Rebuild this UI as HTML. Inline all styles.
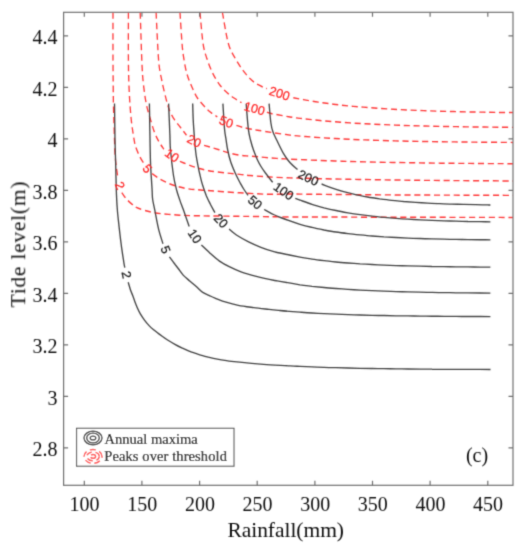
<!DOCTYPE html><html><head><meta charset="utf-8"><style>html,body{margin:0;padding:0;background:#fff;width:522px;height:550px;overflow:hidden}svg{display:block}</style></head><body>
<svg width="522" height="550" viewBox="0 0 522 550">
<rect width="522" height="550" fill="#fff"/>
<filter id="soft" x="0" y="0" width="100%" height="100%" filterUnits="userSpaceOnUse"><feConvolveMatrix order="3" kernelMatrix="0.0225 0.1050 0.0225 0.1050 0.4900 0.1050 0.0225 0.1050 0.0225" divisor="1" edgeMode="none"/></filter>
<g filter="url(#soft)">
<clipPath id="ax"><rect x="63.6" y="12.3" width="449.4" height="473.0"/></clipPath>
<g clip-path="url(#ax)">
<g transform="scale(1,1.063)">
<path d="M113.0,11.6 C113.0,19.0 112.9,42.2 113.0,56.4 C113.1,70.6 113.2,84.3 113.4,96.8 C113.7,109.3 114.2,122.5 114.5,131.4 C114.8,140.4 115.0,144.9 115.5,150.5 C116.0,156.2 117.2,162.8 117.6,165.3" fill="none" stroke="#ff3a3a" stroke-width="1.33" stroke-dasharray="6.1 3.73" stroke-linecap="butt"/>
<path d="M121.8,181.2 C122.5,182.1 124.3,184.9 126.0,186.7 C127.7,188.6 130.1,190.7 132.2,192.2 C134.2,193.7 134.7,194.6 138.3,195.9 C141.9,197.2 147.2,198.9 153.6,200.0 C160.0,201.1 168.9,201.7 176.6,202.2 C184.3,202.7 187.4,202.8 199.6,203.0 C211.8,203.2 234.9,203.4 250.0,203.6 C265.1,203.8 280.8,204.0 290.0,204.1 C299.2,204.2 300.0,204.1 305.0,204.1 C310.0,204.2 315.0,204.2 320.0,204.2 C325.0,204.2 330.0,204.2 335.0,204.2 C340.0,204.2 345.0,204.2 350.0,204.2 C355.0,204.3 360.0,204.3 365.0,204.3 C370.0,204.3 375.0,204.3 380.0,204.3 C385.0,204.3 390.0,204.3 395.0,204.3 C400.0,204.4 405.0,204.4 410.0,204.4 C415.0,204.4 420.0,204.4 425.0,204.4 C430.0,204.4 435.0,204.4 440.0,204.4 C445.0,204.4 450.0,204.5 455.0,204.5 C460.0,204.5 465.0,204.5 470.0,204.5 C475.0,204.5 480.0,204.5 485.0,204.5 C490.0,204.5 495.2,204.5 500.0,204.5 C504.8,204.6 511.7,204.6 514.0,204.6" fill="none" stroke="#ff3a3a" stroke-width="1.33" stroke-dasharray="6.1 3.73" stroke-linecap="butt"/>
<path d="M128.4,11.6 C128.4,19.0 128.3,44.2 128.4,56.4 C128.5,68.7 128.8,76.2 129.2,85.3 C129.6,94.4 130.3,103.5 131.1,111.2 C131.9,118.9 133.3,126.7 134.1,131.4 C134.9,136.1 135.1,136.6 136.1,139.3 C137.1,142.0 138.8,145.4 140.0,147.7 C141.2,150.0 142.8,152.1 143.4,153.0" fill="none" stroke="#ff3a3a" stroke-width="1.33" stroke-dasharray="6.1 3.73" stroke-linecap="butt"/>
<path d="M152.2,163.4 C153.5,164.2 157.3,166.9 160.0,168.4 C162.7,169.9 165.5,171.3 168.3,172.4 C171.1,173.6 173.3,174.3 176.6,175.2 C179.9,176.0 183.7,177.0 188.1,177.6 C192.5,178.2 194.4,178.3 203.0,178.9 C211.6,179.6 229.1,180.7 239.8,181.4 C250.5,182.0 258.6,182.5 267.0,182.7 C275.4,182.9 283.7,182.5 290.0,182.5 C296.3,182.5 300.0,182.6 305.0,182.7 C310.0,182.7 315.0,182.8 320.0,182.8 C325.0,182.9 330.0,182.9 335.0,182.9 C340.0,183.0 345.0,183.0 350.0,183.1 C355.0,183.1 360.0,183.1 365.0,183.2 C370.0,183.2 375.0,183.2 380.0,183.3 C385.0,183.3 390.0,183.3 395.0,183.4 C400.0,183.4 405.0,183.4 410.0,183.4 C415.0,183.5 420.0,183.5 425.0,183.5 C430.0,183.5 435.0,183.5 440.0,183.6 C445.0,183.6 450.0,183.6 455.0,183.6 C460.0,183.6 465.0,183.6 470.0,183.7 C475.0,183.7 480.0,183.7 485.0,183.7 C490.0,183.7 495.2,183.7 500.0,183.7 C504.8,183.8 511.7,183.8 514.0,183.8" fill="none" stroke="#ff3a3a" stroke-width="1.33" stroke-dasharray="6.1 3.73" stroke-linecap="butt"/>
<path d="M140.2,11.6 C140.5,19.0 141.3,45.4 141.8,56.4 C142.3,67.5 142.5,71.1 143.3,78.1 C144.1,85.0 145.1,92.2 146.4,98.2 C147.7,104.2 149.6,109.7 151.0,114.1 C152.4,118.5 153.3,121.7 154.6,124.7 C155.8,127.8 157.0,130.0 158.5,132.6 C160.0,135.2 162.9,139.1 163.8,140.4" fill="none" stroke="#ff3a3a" stroke-width="1.33" stroke-dasharray="6.1 3.73" stroke-linecap="butt"/>
<path d="M179.9,151.8 C182.4,152.7 190.1,155.8 194.9,157.3 C199.7,158.7 203.5,159.7 208.7,160.6 C213.9,161.5 220.8,162.2 226.0,162.7 C231.2,163.3 235.8,163.6 239.8,164.0 C243.8,164.4 245.0,164.7 250.0,165.1 C255.0,165.5 263.3,166.2 270.0,166.5 C276.7,166.9 284.2,167.1 290.0,167.3 C295.8,167.5 300.0,167.5 305.0,167.7 C310.0,167.8 315.0,167.9 320.0,168.1 C325.0,168.2 330.0,168.3 335.0,168.4 C340.0,168.5 345.0,168.6 350.0,168.7 C355.0,168.8 360.0,168.8 365.0,168.9 C370.0,169.0 375.0,169.1 380.0,169.1 C385.0,169.2 390.0,169.3 395.0,169.3 C400.0,169.4 405.0,169.5 410.0,169.5 C415.0,169.6 420.0,169.6 425.0,169.7 C430.0,169.7 435.0,169.7 440.0,169.8 C445.0,169.8 450.0,169.9 455.0,169.9 C460.0,169.9 465.0,170.0 470.0,170.0 C475.0,170.0 480.0,170.1 485.0,170.1 C490.0,170.1 495.2,170.1 500.0,170.2 C504.8,170.2 511.7,170.2 514.0,170.2" fill="none" stroke="#ff3a3a" stroke-width="1.33" stroke-dasharray="6.1 3.73" stroke-linecap="butt"/>
<path d="M156.1,11.6 C156.5,19.0 157.7,45.8 158.6,56.4 C159.5,67.0 160.4,68.9 161.7,75.2 C163.0,81.4 164.9,88.9 166.3,93.9 C167.7,98.8 168.6,101.9 169.9,104.9 C171.2,107.9 172.6,109.8 174.0,111.9 C175.4,114.0 177.1,115.8 178.5,117.5 C179.9,119.2 181.2,120.7 182.5,122.3 C183.8,123.9 185.8,126.5 186.5,127.3" fill="none" stroke="#ff3a3a" stroke-width="1.33" stroke-dasharray="6.1 3.73" stroke-linecap="butt"/>
<path d="M204.1,136.7 C206.6,137.4 214.9,139.7 219.0,140.9 C223.1,142.1 225.2,142.9 228.7,143.7 C232.2,144.6 236.0,145.5 239.8,146.0 C243.6,146.6 245.6,146.5 251.7,147.0 C257.8,147.5 270.2,148.6 276.6,149.0 C283.0,149.4 285.3,149.4 290.0,149.7 C294.7,149.9 300.0,150.1 305.0,150.3 C310.0,150.6 315.0,150.8 320.0,150.9 C325.0,151.1 330.0,151.3 335.0,151.4 C340.0,151.6 345.0,151.7 350.0,151.9 C355.0,152.0 360.0,152.1 365.0,152.3 C370.0,152.4 375.0,152.5 380.0,152.6 C385.0,152.7 390.0,152.8 395.0,152.9 C400.0,152.9 405.0,153.0 410.0,153.1 C415.0,153.2 420.0,153.2 425.0,153.3 C430.0,153.4 435.0,153.4 440.0,153.5 C445.0,153.5 450.0,153.6 455.0,153.6 C460.0,153.7 465.0,153.7 470.0,153.7 C475.0,153.8 480.0,153.8 485.0,153.9 C490.0,153.9 495.2,153.9 500.0,153.9 C504.8,154.0 511.7,154.0 514.0,154.0" fill="none" stroke="#ff3a3a" stroke-width="1.33" stroke-dasharray="6.1 3.73" stroke-linecap="butt"/>
<path d="M180.0,11.6 C180.3,16.4 181.4,33.3 182.0,40.5 C182.6,47.8 183.0,50.1 183.8,54.9 C184.6,59.7 185.6,65.0 186.9,69.3 C188.2,73.7 189.7,77.1 191.5,80.9 C193.3,84.7 195.0,88.8 197.6,92.4 C200.2,96.0 204.3,100.1 206.8,102.5 C209.3,105.0 210.9,105.8 212.7,107.1 C214.4,108.3 216.5,109.5 217.3,110.0" fill="none" stroke="#ff3a3a" stroke-width="1.33" stroke-dasharray="6.1 3.73" stroke-linecap="butt"/>
<path d="M236.4,117.9 C237.4,118.2 238.7,118.9 242.2,119.7 C245.7,120.4 249.5,121.2 257.5,122.5 C265.5,123.7 282.1,126.1 290.0,127.1 C297.9,128.1 300.0,128.0 305.0,128.4 C310.0,128.8 315.0,129.1 320.0,129.5 C325.0,129.8 330.0,130.1 335.0,130.3 C340.0,130.6 345.0,130.8 350.0,131.0 C355.0,131.3 360.0,131.5 365.0,131.6 C370.0,131.8 375.0,132.0 380.0,132.1 C385.0,132.3 390.0,132.4 395.0,132.5 C400.0,132.6 405.0,132.8 410.0,132.9 C415.0,132.9 420.0,133.0 425.0,133.1 C430.0,133.2 435.0,133.3 440.0,133.3 C445.0,133.4 450.0,133.5 455.0,133.5 C460.0,133.6 465.0,133.6 470.0,133.7 C475.0,133.7 480.0,133.8 485.0,133.8 C490.0,133.8 495.2,133.9 500.0,133.9 C504.8,133.9 511.7,134.0 514.0,134.0" fill="none" stroke="#ff3a3a" stroke-width="1.33" stroke-dasharray="6.1 3.73" stroke-linecap="butt"/>
<path d="M200.0,11.6 C200.5,16.4 201.9,33.3 203.0,40.5 C204.1,47.8 205.2,50.1 206.8,54.9 C208.5,59.7 210.6,65.0 212.9,69.3 C215.2,73.7 218.1,77.8 220.6,80.9 C223.1,84.0 226.0,86.2 228.2,88.1 C230.4,89.9 231.8,90.8 234.0,92.2 C236.2,93.6 240.2,95.9 241.5,96.6" fill="none" stroke="#ff3a3a" stroke-width="1.33" stroke-dasharray="6.1 3.73" stroke-linecap="butt"/>
<path d="M266.9,105.6 C267.8,105.9 268.2,106.2 272.1,107.0 C276.0,107.7 284.5,109.2 290.0,110.0 C295.5,110.9 300.0,111.3 305.0,111.9 C310.0,112.4 315.0,112.9 320.0,113.4 C325.0,113.8 330.0,114.2 335.0,114.6 C340.0,115.0 345.0,115.3 350.0,115.6 C355.0,115.9 360.0,116.2 365.0,116.4 C370.0,116.7 375.0,116.9 380.0,117.1 C385.0,117.3 390.0,117.5 395.0,117.7 C400.0,117.9 405.0,118.0 410.0,118.2 C415.0,118.3 420.0,118.4 425.0,118.6 C430.0,118.7 435.0,118.8 440.0,118.9 C445.0,119.0 450.0,119.1 455.0,119.1 C460.0,119.2 465.0,119.3 470.0,119.4 C475.0,119.4 480.0,119.5 485.0,119.5 C490.0,119.6 495.2,119.6 500.0,119.7 C504.8,119.7 511.7,119.8 514.0,119.8" fill="none" stroke="#ff3a3a" stroke-width="1.33" stroke-dasharray="6.1 3.73" stroke-linecap="butt"/>
<path d="M222.4,11.6 C223.4,16.4 226.2,33.6 228.2,40.5 C230.2,47.5 232.1,49.5 234.4,53.5 C236.7,57.6 239.4,61.6 242.0,65.0 C244.6,68.4 247.4,71.4 249.7,73.7 C252.0,75.9 253.8,77.2 256.0,78.6 C258.2,79.9 261.3,81.2 263.1,82.0 C264.9,82.8 266.4,83.2 267.0,83.4" fill="none" stroke="#ff3a3a" stroke-width="1.33" stroke-dasharray="6.1 3.73" stroke-linecap="butt"/>
<path d="M293.3,91.9 C295.0,92.2 299.1,93.0 303.3,93.7 C307.5,94.4 313.3,95.4 318.3,96.1 C323.3,96.8 328.3,97.4 333.3,98.0 C338.3,98.6 343.3,99.1 348.3,99.6 C353.3,100.0 358.3,100.5 363.3,100.8 C368.3,101.2 373.3,101.6 378.3,101.9 C383.3,102.2 388.3,102.5 393.3,102.8 C398.3,103.0 403.3,103.3 408.3,103.5 C413.3,103.7 418.3,103.9 423.3,104.1 C428.3,104.3 433.3,104.4 438.3,104.6 C443.3,104.7 448.3,104.8 453.3,104.9 C458.3,105.1 463.3,105.2 468.3,105.3 C473.3,105.4 478.3,105.5 483.3,105.5 C488.3,105.6 493.2,105.7 498.3,105.8 C503.4,105.8 511.4,105.9 514.0,105.9" fill="none" stroke="#ff3a3a" stroke-width="1.33" stroke-dasharray="6.1 3.73" stroke-linecap="butt"/>
</g>
<path d="M114.5,103.6 C114.6,109.7 114.8,129.8 115.0,140.0 C115.2,150.2 115.5,156.7 115.7,165.0 C115.9,173.3 116.1,183.3 116.3,190.0 C116.5,196.7 116.7,200.2 117.0,205.0 C117.3,209.8 117.5,212.3 118.2,218.7 C118.9,225.1 120.1,236.2 121.1,243.6 C122.0,250.9 123.3,258.8 123.9,262.8 C124.5,266.8 124.7,266.8 124.8,267.6" fill="none" stroke="#444444" stroke-width="1.35" stroke-linejoin="round" stroke-linecap="butt"/>
<path d="M128.2,282.2 C128.6,283.5 129.8,287.9 130.5,290.0 C131.2,292.1 131.8,293.1 132.5,295.0 C133.2,296.9 134.0,299.3 134.8,301.4 C135.6,303.5 136.4,305.6 137.3,307.7 C138.2,309.8 139.3,312.1 140.5,314.1 C141.7,316.1 142.9,317.9 144.3,319.8 C145.7,321.7 147.6,324.0 149.1,325.6 C150.6,327.2 151.4,327.9 153.6,329.7 C155.8,331.5 159.8,334.5 162.2,336.3 C164.6,338.1 165.9,339.0 168.0,340.3 C170.1,341.6 172.6,343.1 174.9,344.3 C177.2,345.6 179.1,346.6 181.8,347.8 C184.5,349.1 187.1,350.4 191.0,351.8 C194.9,353.2 199.9,355.1 205.0,356.4 C210.1,357.7 215.5,358.9 221.3,359.8 C227.1,360.8 232.6,361.4 239.7,362.1 C246.8,362.9 255.2,363.7 263.6,364.3 C272.1,364.9 284.3,365.5 290.4,365.9 C296.5,366.3 296.4,366.2 300.0,366.4 C303.6,366.6 308.0,366.8 312.0,366.9 C316.0,367.1 320.0,367.2 324.0,367.3 C328.0,367.5 332.0,367.6 336.0,367.7 C340.0,367.8 344.0,367.9 348.0,368.0 C352.0,368.1 356.0,368.2 360.0,368.3 C364.0,368.3 368.0,368.4 372.0,368.5 C376.0,368.6 380.0,368.6 384.0,368.7 C388.0,368.7 392.0,368.8 396.0,368.8 C400.0,368.9 404.0,368.9 408.0,369.0 C412.0,369.0 416.0,369.0 420.0,369.1 C424.0,369.1 428.0,369.1 432.0,369.2 C436.0,369.2 440.0,369.2 444.0,369.3 C448.0,369.3 452.0,369.3 456.0,369.3 C460.0,369.3 464.0,369.4 468.0,369.4 C472.0,369.4 476.2,369.4 480.0,369.4 C483.8,369.5 488.8,369.5 490.5,369.5" fill="none" stroke="#444444" stroke-width="1.35" stroke-linejoin="round" stroke-linecap="butt"/>
<path d="M149.4,103.6 C149.5,110.5 149.9,134.8 150.1,145.0 C150.3,155.2 150.3,157.5 150.6,165.0 C150.9,172.5 151.8,184.3 152.1,190.0 C152.4,195.7 152.2,195.8 152.6,199.0 C153.0,202.2 153.6,204.3 154.6,209.2 C155.6,214.1 157.0,222.5 158.4,228.3 C159.8,234.1 162.2,241.2 163.0,243.8" fill="none" stroke="#444444" stroke-width="1.35" stroke-linejoin="round" stroke-linecap="butt"/>
<path d="M169.4,256.9 C170.2,257.9 172.5,261.0 174.0,263.0 C175.5,265.0 177.1,267.0 178.6,269.0 C180.1,271.0 181.3,273.1 183.2,275.1 C185.0,277.1 187.5,279.0 189.7,280.9 C191.9,282.8 194.1,284.7 196.3,286.6 C198.5,288.5 200.7,290.9 202.8,292.4 C204.9,293.8 206.9,294.4 208.9,295.3 C210.9,296.2 212.1,297.0 215.0,298.1 C217.9,299.2 222.2,301.0 226.1,302.2 C230.0,303.4 233.7,304.4 238.3,305.3 C242.9,306.2 248.5,306.9 253.6,307.6 C258.7,308.3 264.6,308.9 269.0,309.4 C273.4,309.9 274.5,310.0 279.7,310.5 C284.9,311.0 294.6,311.8 300.0,312.2 C305.4,312.6 308.0,312.8 312.0,313.0 C316.0,313.2 320.0,313.4 324.0,313.6 C328.0,313.8 332.0,314.0 336.0,314.2 C340.0,314.3 344.0,314.5 348.0,314.6 C352.0,314.7 356.0,314.9 360.0,315.0 C364.0,315.1 368.0,315.2 372.0,315.3 C376.0,315.4 380.0,315.5 384.0,315.5 C388.0,315.6 392.0,315.7 396.0,315.8 C400.0,315.8 404.0,315.9 408.0,315.9 C412.0,316.0 416.0,316.0 420.0,316.1 C424.0,316.1 428.0,316.2 432.0,316.2 C436.0,316.2 440.0,316.3 444.0,316.3 C448.0,316.3 452.0,316.4 456.0,316.4 C460.0,316.4 464.0,316.5 468.0,316.5 C472.0,316.5 476.3,316.5 480.0,316.5 C483.7,316.6 488.7,316.6 490.4,316.6" fill="none" stroke="#444444" stroke-width="1.35" stroke-linejoin="round" stroke-linecap="butt"/>
<path d="M168.6,103.6 C168.8,108.8 169.6,127.3 169.9,135.0 C170.2,142.7 169.9,143.3 170.5,150.0 C171.1,156.7 172.4,168.3 173.4,175.0 C174.4,181.7 175.5,185.7 176.6,190.0 C177.7,194.3 178.9,197.3 180.0,200.6 C181.1,203.9 181.9,205.5 183.4,209.8 C184.9,214.1 188.2,223.7 189.2,226.5" fill="none" stroke="#444444" stroke-width="1.35" stroke-linejoin="round" stroke-linecap="butt"/>
<path d="M201.4,245.0 C202.9,246.4 207.3,250.7 210.3,253.4 C213.3,256.1 216.4,258.9 219.5,261.1 C222.6,263.3 225.1,264.6 228.7,266.4 C232.3,268.2 236.4,270.1 241.0,271.8 C245.6,273.5 250.7,274.9 256.3,276.4 C261.9,277.8 270.8,279.7 274.7,280.5 C278.6,281.3 275.8,280.6 280.0,281.3 C284.2,282.0 294.7,283.9 300.0,284.8 C305.3,285.6 308.0,285.8 312.0,286.3 C316.0,286.7 320.0,287.1 324.0,287.5 C328.0,287.9 332.0,288.2 336.0,288.5 C340.0,288.8 344.0,289.1 348.0,289.4 C352.0,289.6 356.0,289.9 360.0,290.1 C364.0,290.3 368.0,290.5 372.0,290.7 C376.0,290.9 380.0,291.0 384.0,291.2 C388.0,291.3 392.0,291.4 396.0,291.6 C400.0,291.7 404.0,291.8 408.0,291.9 C412.0,292.0 416.0,292.1 420.0,292.2 C424.0,292.3 428.0,292.4 432.0,292.4 C436.0,292.5 440.0,292.6 444.0,292.6 C448.0,292.7 452.0,292.7 456.0,292.8 C460.0,292.8 464.0,292.9 468.0,292.9 C472.0,293.0 476.3,293.0 480.0,293.0 C483.7,293.1 488.7,293.1 490.4,293.1" fill="none" stroke="#444444" stroke-width="1.35" stroke-linejoin="round" stroke-linecap="butt"/>
<path d="M192.7,103.6 C192.8,107.2 193.0,117.3 193.5,125.0 C194.0,132.7 194.9,143.9 195.5,150.0 C196.1,156.1 196.5,157.7 197.2,161.5 C197.9,165.3 198.6,169.2 199.5,173.0 C200.4,176.8 201.2,180.7 202.4,184.5 C203.6,188.3 205.1,192.7 206.4,196.0 C207.8,199.3 209.1,201.7 210.5,204.5 C211.9,207.3 214.2,211.2 214.9,212.6" fill="none" stroke="#444444" stroke-width="1.35" stroke-linejoin="round" stroke-linecap="butt"/>
<path d="M229.1,229.1 C230.3,230.1 233.2,232.9 236.4,235.0 C239.7,237.1 244.5,239.8 248.6,241.9 C252.7,244.0 256.5,245.6 260.9,247.3 C265.2,249.0 271.5,251.0 274.7,251.9 C277.9,252.8 275.8,252.1 280.0,253.0 C284.2,253.9 294.7,256.1 300.0,257.2 C305.3,258.2 308.0,258.5 312.0,259.1 C316.0,259.7 320.0,260.2 324.0,260.7 C328.0,261.2 332.0,261.6 336.0,262.0 C340.0,262.4 344.0,262.7 348.0,263.0 C352.0,263.3 356.0,263.6 360.0,263.9 C364.0,264.1 368.0,264.3 372.0,264.5 C376.0,264.7 380.0,264.9 384.0,265.1 C388.0,265.3 392.0,265.4 396.0,265.6 C400.0,265.7 404.0,265.8 408.0,265.9 C412.0,266.0 416.0,266.1 420.0,266.2 C424.0,266.3 428.0,266.4 432.0,266.5 C436.0,266.5 440.0,266.6 444.0,266.7 C448.0,266.7 452.0,266.8 456.0,266.8 C460.0,266.9 464.0,266.9 468.0,266.9 C472.0,267.0 476.3,267.0 480.0,267.1 C483.7,267.1 488.7,267.1 490.4,267.1" fill="none" stroke="#444444" stroke-width="1.35" stroke-linejoin="round" stroke-linecap="butt"/>
<path d="M222.9,103.6 C223.2,107.8 224.0,122.7 224.5,128.7 C225.0,134.7 225.6,136.2 226.1,139.8 C226.6,143.4 226.9,146.4 227.7,150.0 C228.4,153.6 229.3,157.7 230.6,161.5 C231.8,165.3 233.7,169.6 235.2,173.0 C236.7,176.4 238.3,179.4 239.8,182.2 C241.3,184.9 242.6,187.3 244.0,189.5 C245.4,191.7 247.3,194.3 248.0,195.3" fill="none" stroke="#444444" stroke-width="1.35" stroke-linejoin="round" stroke-linecap="butt"/>
<path d="M264.1,209.5 C265.4,210.2 269.3,212.5 272.0,213.8 C274.7,215.1 275.8,215.8 280.5,217.5 C285.2,219.2 294.8,222.6 300.0,224.3 C305.2,225.9 308.0,226.5 312.0,227.4 C316.0,228.4 320.0,229.2 324.0,230.0 C328.0,230.7 332.0,231.4 336.0,232.0 C340.0,232.6 344.0,233.1 348.0,233.6 C352.0,234.1 356.0,234.5 360.0,234.9 C364.0,235.3 368.0,235.7 372.0,236.0 C376.0,236.3 380.0,236.6 384.0,236.9 C388.0,237.1 392.0,237.3 396.0,237.5 C400.0,237.7 404.0,237.9 408.0,238.1 C412.0,238.3 416.0,238.4 420.0,238.5 C424.0,238.7 428.0,238.8 432.0,238.9 C436.0,239.0 440.0,239.1 444.0,239.2 C448.0,239.3 452.0,239.3 456.0,239.4 C460.0,239.5 464.0,239.5 468.0,239.6 C472.0,239.7 476.3,239.7 480.0,239.7 C483.7,239.8 488.7,239.8 490.4,239.9" fill="none" stroke="#444444" stroke-width="1.35" stroke-linejoin="round" stroke-linecap="butt"/>
<path d="M246.2,103.6 C246.5,107.8 247.6,122.6 248.3,128.7 C249.0,134.8 249.6,136.4 250.5,140.0 C251.4,143.6 252.3,146.7 253.5,150.0 C254.7,153.3 256.2,157.2 257.5,160.0 C258.8,162.8 259.7,164.4 261.0,166.5 C262.3,168.6 263.2,169.9 265.1,172.5 C267.1,175.1 271.4,180.7 272.7,182.3" fill="none" stroke="#444444" stroke-width="1.35" stroke-linejoin="round" stroke-linecap="butt"/>
<path d="M295.3,198.4 C296.1,198.7 297.2,199.1 300.0,200.1 C302.8,201.1 308.0,203.1 312.0,204.3 C316.0,205.6 320.0,206.7 324.0,207.8 C328.0,208.8 332.0,209.7 336.0,210.5 C340.0,211.4 344.0,212.1 348.0,212.8 C352.0,213.5 356.0,214.1 360.0,214.6 C364.0,215.2 368.0,215.7 372.0,216.1 C376.0,216.6 380.0,217.0 384.0,217.4 C388.0,217.7 392.0,218.1 396.0,218.4 C400.0,218.7 404.0,218.9 408.0,219.2 C412.0,219.4 416.0,219.6 420.0,219.8 C424.0,220.0 428.0,220.2 432.0,220.4 C436.0,220.5 440.0,220.7 444.0,220.8 C448.0,220.9 452.0,221.1 456.0,221.2 C460.0,221.3 464.0,221.4 468.0,221.5 C472.0,221.5 476.3,221.6 480.0,221.7 C483.7,221.8 488.7,221.8 490.4,221.9" fill="none" stroke="#444444" stroke-width="1.35" stroke-linejoin="round" stroke-linecap="butt"/>
<path d="M269.1,103.6 C269.4,106.8 270.2,118.3 270.9,123.0 C271.5,127.7 272.0,129.2 273.0,132.0 C274.0,134.8 275.0,136.4 276.7,140.0 C278.4,143.6 281.2,149.6 283.4,153.4 C285.6,157.2 287.8,160.1 290.1,162.8 C292.5,165.5 296.3,168.4 297.5,169.5" fill="none" stroke="#444444" stroke-width="1.35" stroke-linejoin="round" stroke-linecap="butt"/>
<path d="M321.6,184.0 C323.3,184.6 327.9,186.6 331.6,187.9 C335.3,189.2 339.6,190.6 343.6,191.7 C347.6,192.8 351.6,193.8 355.6,194.7 C359.6,195.6 363.6,196.3 367.6,197.0 C371.6,197.7 375.6,198.3 379.6,198.9 C383.6,199.4 387.6,199.9 391.6,200.3 C395.6,200.8 399.6,201.1 403.6,201.5 C407.6,201.8 411.6,202.1 415.6,202.4 C419.6,202.6 423.6,202.9 427.6,203.1 C431.6,203.3 435.6,203.5 439.6,203.6 C443.6,203.8 447.6,204.0 451.6,204.1 C455.6,204.2 459.6,204.3 463.6,204.4 C467.6,204.5 471.6,204.6 475.6,204.7 C479.6,204.8 485.1,204.9 487.6,204.9 C490.1,205.0 489.9,205.0 490.4,205.0" fill="none" stroke="#444444" stroke-width="1.35" stroke-linejoin="round" stroke-linecap="butt"/>
</g>
<text x="126.1" y="274.8" font-family="Liberation Sans, Arial, sans-serif" font-size="12.6" fill="#1a1a1a" stroke="#1a1a1a" stroke-width="0.25" text-anchor="middle" dominant-baseline="central" transform="rotate(78 126.1 274.8)">2</text>
<text x="165.3" y="249.8" font-family="Liberation Sans, Arial, sans-serif" font-size="12.6" fill="#1a1a1a" stroke="#1a1a1a" stroke-width="0.25" text-anchor="middle" dominant-baseline="central" transform="rotate(68 165.3 249.8)">5</text>
<text x="194.5" y="236.5" font-family="Liberation Sans, Arial, sans-serif" font-size="12.6" fill="#1a1a1a" stroke="#1a1a1a" stroke-width="0.25" text-anchor="middle" dominant-baseline="central" transform="rotate(55 194.5 236.5)">10</text>
<text x="220.7" y="221.1" font-family="Liberation Sans, Arial, sans-serif" font-size="12.6" fill="#1a1a1a" stroke="#1a1a1a" stroke-width="0.25" text-anchor="middle" dominant-baseline="central" transform="rotate(47 220.7 221.1)">20</text>
<text x="254.9" y="202.6" font-family="Liberation Sans, Arial, sans-serif" font-size="12.6" fill="#1a1a1a" stroke="#1a1a1a" stroke-width="0.25" text-anchor="middle" dominant-baseline="central" transform="rotate(40 254.9 202.6)">50</text>
<text x="283.4" y="191.5" font-family="Liberation Sans, Arial, sans-serif" font-size="12.6" fill="#1a1a1a" stroke="#1a1a1a" stroke-width="0.25" text-anchor="middle" dominant-baseline="central" transform="rotate(35 283.4 191.5)">100</text>
<text x="308.2" y="178.2" font-family="Liberation Sans, Arial, sans-serif" font-size="12.6" fill="#1a1a1a" stroke="#1a1a1a" stroke-width="0.25" text-anchor="middle" dominant-baseline="central" transform="rotate(25 308.2 178.2)">200</text>
<text x="119.5" y="185.7" font-family="Liberation Sans, Arial, sans-serif" font-size="12.6" fill="#ff2828" stroke="#ff2828" stroke-width="0.25" text-anchor="middle" dominant-baseline="central" transform="rotate(65 119.5 185.7)">2</text>
<text x="147.0" y="168.9" font-family="Liberation Sans, Arial, sans-serif" font-size="12.6" fill="#ff2828" stroke="#ff2828" stroke-width="0.25" text-anchor="middle" dominant-baseline="central" transform="rotate(50 147.0 168.9)">5</text>
<text x="171.9" y="155.7" font-family="Liberation Sans, Arial, sans-serif" font-size="12.6" fill="#ff2828" stroke="#ff2828" stroke-width="0.25" text-anchor="middle" dominant-baseline="central" transform="rotate(35 171.9 155.7)">10</text>
<text x="194.0" y="141.3" font-family="Liberation Sans, Arial, sans-serif" font-size="12.6" fill="#ff2828" stroke="#ff2828" stroke-width="0.25" text-anchor="middle" dominant-baseline="central" transform="rotate(26 194.0 141.3)">20</text>
<text x="226.1" y="122.2" font-family="Liberation Sans, Arial, sans-serif" font-size="12.6" fill="#ff2828" stroke="#ff2828" stroke-width="0.25" text-anchor="middle" dominant-baseline="central" transform="rotate(20 226.1 122.2)">50</text>
<text x="254.4" y="108.9" font-family="Liberation Sans, Arial, sans-serif" font-size="12.6" fill="#ff2828" stroke="#ff2828" stroke-width="0.25" text-anchor="middle" dominant-baseline="central" transform="rotate(15 254.4 108.9)">100</text>
<text x="279.4" y="93.8" font-family="Liberation Sans, Arial, sans-serif" font-size="12.6" fill="#ff2828" stroke="#ff2828" stroke-width="0.25" text-anchor="middle" dominant-baseline="central" transform="rotate(17 279.4 93.8)">200</text>
<rect x="63.6" y="12.3" width="449.4" height="473.0" stroke="#707070" stroke-width="1.2" fill="none"/>
<path d="M84.3,485.3V480.8M84.3,12.3V16.8M141.9,485.3V480.8M141.9,12.3V16.8M199.6,485.3V480.8M199.6,12.3V16.8M257.2,485.3V480.8M257.2,12.3V16.8M314.9,485.3V480.8M314.9,12.3V16.8M372.5,485.3V480.8M372.5,12.3V16.8M430.1,485.3V480.8M430.1,12.3V16.8M487.8,485.3V480.8M487.8,12.3V16.8M63.6,447.8H68.1M513.0,447.8H508.5M63.6,396.3H68.1M513.0,396.3H508.5M63.6,344.8H68.1M513.0,344.8H508.5M63.6,293.4H68.1M513.0,293.4H508.5M63.6,241.9H68.1M513.0,241.9H508.5M63.6,190.4H68.1M513.0,190.4H508.5M63.6,138.9H68.1M513.0,138.9H508.5M63.6,87.4H68.1M513.0,87.4H508.5M63.6,35.9H68.1M513.0,35.9H508.5" stroke="#707070" stroke-width="1.2" fill="none"/>
<text x="84.6" y="511.0" font-family="Liberation Serif, Times New Roman, serif" font-size="20" fill="#111" text-anchor="middle">100</text>
<text x="142.2" y="511.0" font-family="Liberation Serif, Times New Roman, serif" font-size="20" fill="#111" text-anchor="middle">150</text>
<text x="199.9" y="511.0" font-family="Liberation Serif, Times New Roman, serif" font-size="20" fill="#111" text-anchor="middle">200</text>
<text x="257.5" y="511.0" font-family="Liberation Serif, Times New Roman, serif" font-size="20" fill="#111" text-anchor="middle">250</text>
<text x="315.2" y="511.0" font-family="Liberation Serif, Times New Roman, serif" font-size="20" fill="#111" text-anchor="middle">300</text>
<text x="372.8" y="511.0" font-family="Liberation Serif, Times New Roman, serif" font-size="20" fill="#111" text-anchor="middle">350</text>
<text x="430.4" y="511.0" font-family="Liberation Serif, Times New Roman, serif" font-size="20" fill="#111" text-anchor="middle">400</text>
<text x="488.1" y="511.0" font-family="Liberation Serif, Times New Roman, serif" font-size="20" fill="#111" text-anchor="middle">450</text>
<text x="57.5" y="456.1" font-family="Liberation Serif, Times New Roman, serif" font-size="20" fill="#111" text-anchor="end">2.8</text>
<text x="57.5" y="404.6" font-family="Liberation Serif, Times New Roman, serif" font-size="20" fill="#111" text-anchor="end">3</text>
<text x="57.5" y="353.1" font-family="Liberation Serif, Times New Roman, serif" font-size="20" fill="#111" text-anchor="end">3.2</text>
<text x="57.5" y="301.7" font-family="Liberation Serif, Times New Roman, serif" font-size="20" fill="#111" text-anchor="end">3.4</text>
<text x="57.5" y="250.2" font-family="Liberation Serif, Times New Roman, serif" font-size="20" fill="#111" text-anchor="end">3.6</text>
<text x="57.5" y="198.7" font-family="Liberation Serif, Times New Roman, serif" font-size="20" fill="#111" text-anchor="end">3.8</text>
<text x="57.5" y="147.2" font-family="Liberation Serif, Times New Roman, serif" font-size="20" fill="#111" text-anchor="end">4</text>
<text x="57.5" y="95.7" font-family="Liberation Serif, Times New Roman, serif" font-size="20" fill="#111" text-anchor="end">4.2</text>
<text x="57.5" y="44.2" font-family="Liberation Serif, Times New Roman, serif" font-size="20" fill="#111" text-anchor="end">4.4</text>
<text x="227.4" y="537.3" font-family="Liberation Serif, Times New Roman, serif" font-size="21.5" fill="#111" textLength="116.6" lengthAdjust="spacing">Rainfall(mm)</text>
<text x="0" y="0" font-family="Liberation Serif, Times New Roman, serif" font-size="21.5" fill="#111" textLength="125.8" lengthAdjust="spacing" transform="translate(25.2 307.4) rotate(-90)">Tide level(m)</text>
<text x="477" y="462" font-family="Liberation Serif, Times New Roman, serif" font-size="20" fill="#111" text-anchor="middle">(c)</text>
<rect x="76.6" y="428.3" width="157.4" height="37.9" fill="#fff" stroke="#555" stroke-width="1.1"/>
<ellipse cx="93.0" cy="438.0" rx="9.0" ry="6.9" fill="none" stroke="#333" stroke-width="1.3"/>
<ellipse cx="93.0" cy="438.0" rx="6.3" ry="4.8" fill="none" stroke="#333" stroke-width="1.3"/>
<ellipse cx="93.0" cy="438.0" rx="2.8" ry="1.9" fill="none" stroke="#333" stroke-width="1.3"/>
<ellipse cx="93.0" cy="456.4" rx="9.0" ry="6.9" fill="none" stroke="#ff4646" stroke-width="1.4" stroke-dasharray="6 3.7" stroke-dashoffset="4.6"/>
<ellipse cx="93.0" cy="456.4" rx="6.2" ry="4.4" fill="none" stroke="#ff4646" stroke-width="1.4" stroke-dasharray="5.6 3.7" stroke-dashoffset="0.9"/>
<ellipse cx="93.0" cy="456.4" rx="2.6" ry="1.9" fill="none" stroke="#ff4646" stroke-width="1.4" stroke-dasharray="6 2.4" stroke-dashoffset="0.0"/>
<text x="104.4" y="444.0" font-family="Liberation Serif, Times New Roman, serif" font-size="14.5" fill="#000" stroke="#000" stroke-width="0.2" textLength="93.4" lengthAdjust="spacing">Annual maxima</text>
<text x="104.3" y="461.3" font-family="Liberation Serif, Times New Roman, serif" font-size="14.5" fill="#000" stroke="#000" stroke-width="0.2" textLength="122.6" lengthAdjust="spacing">Peaks over threshold</text>
</g>
</svg></body></html>
